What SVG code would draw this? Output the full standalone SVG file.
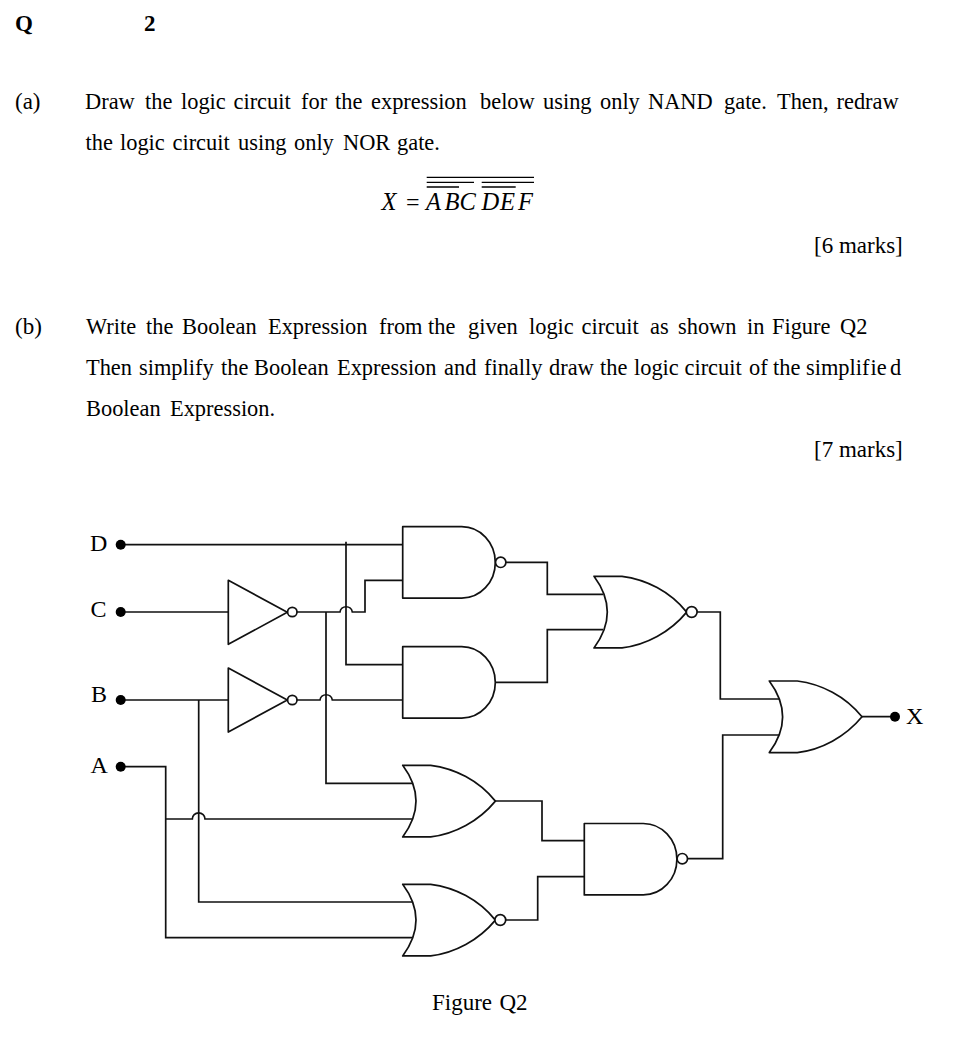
<svg xmlns="http://www.w3.org/2000/svg" width="969" height="1052" viewBox="0 0 969 1052">
<style>
text{font-family:"Liberation Serif","Times New Roman",serif;font-size:23px;fill:#000}
.t{font-size:22.4px}
.b{font-weight:bold}
.i{font-style:italic;font-size:24.5px}
.l{font-size:24px}
.w{fill:none;stroke:#111;stroke-width:1.7}
.g{fill:#fff;stroke:#111;stroke-width:1.7;stroke-linejoin:round}
.o{fill:none;stroke:#000;stroke-width:1.3}
.d{fill:#000}
</style>
<defs>
<path id="and" d="M0,0H59A33.6,35.7 0 0 1 59,71.4H0Z"/>
<path id="or" d="M0,0H28C52,3 76,15 92.7,35.8C76,56 52,68.7 28,71.6H0Q26.6,35.8 0,0Z"/>
<path id="inv" d="M0,0L59,32L0,64Z"/>
</defs>
<rect width="969" height="1052" fill="#fff"/>
<g id="text-question">
<text class="b" x="15" y="31">Q</text><text class="b" x="144" y="31">2</text>
<text x="15" y="108.5">(a)</text>
<text class="t" y="108.5"><tspan x="85">Draw </tspan><tspan x="145">the </tspan><tspan x="181">logic </tspan><tspan x="233.5">circuit </tspan><tspan x="301">for </tspan><tspan x="335">the </tspan><tspan x="371">expression </tspan><tspan x="480">below </tspan><tspan x="543">using </tspan><tspan x="600">only </tspan><tspan x="648">NAND </tspan><tspan x="724">gate. </tspan><tspan x="777">Then, </tspan><tspan x="836.5">redraw</tspan></text>
<text class="t" y="150"><tspan x="85.5">the </tspan><tspan x="120">logic </tspan><tspan x="172.5">circuit </tspan><tspan x="238">using </tspan><tspan x="294">only </tspan><tspan x="343">NOR </tspan><tspan x="397">gate.</tspan></text>
<text x="814" y="253">[6 marks]</text>
<text x="15" y="334">(b)</text>
<text class="t" y="334"><tspan x="86">Write </tspan><tspan x="146">the </tspan><tspan x="182">Boolean </tspan><tspan x="268">Expression </tspan><tspan x="379">from </tspan><tspan x="428">the </tspan><tspan x="468">given </tspan><tspan x="529">logic </tspan><tspan x="581.5">circuit </tspan><tspan x="650">as </tspan><tspan x="678">shown </tspan><tspan x="747">in </tspan><tspan x="772">Figure </tspan><tspan x="840">Q2</tspan></text>
<text class="t" y="375"><tspan x="86">Then </tspan><tspan x="139">simplify </tspan><tspan x="221">the </tspan><tspan x="254">Boolean </tspan><tspan x="337">Expression </tspan><tspan x="444">and </tspan><tspan x="484">finally </tspan><tspan x="549">draw </tspan><tspan x="600">the </tspan><tspan x="634">logic </tspan><tspan x="684.5">circuit </tspan><tspan x="749">of </tspan><tspan x="773">the </tspan><tspan x="806">simplif</tspan><tspan x="870.5">ie</tspan><tspan x="890">d</tspan></text>
<text class="t" y="415.7"><tspan x="86">Boolean </tspan><tspan x="170">Expression.</tspan></text>
<text x="814" y="456.7">[7 marks]</text>
<text x="432" y="1010">Figure</text><text x="499.5" y="1010">Q2</text>
</g>
<g id="equation">
<text class="i" x="381.5" y="209.5">X</text>
<text x="406" y="209.5" class="l">=</text>
<text class="i" y="209.5"><tspan x="426">A</tspan><tspan x="444.5">B</tspan><tspan x="459.5">C</tspan><tspan x="481.5">D</tspan><tspan x="500">E</tspan><tspan x="518">F</tspan></text>
<path class="o" d="M426.7,177.3H534M426.7,182.3H474M481.7,182.3H534M426.7,187H459M481.7,187H515.7"/>
</g>
<g id="connectors">
<path class="w" d="M120.7,544.7H403M346,541.7V664.7H403"/>
<path class="w" d="M120.7,612H228.3M297,612H340A6.2,6 0 0 1 352.3,612H365V580.3H403"/>
<path class="w" d="M326,612V783.3H413"/>
<path class="w" d="M120.7,700H228.3M297,700H320A6.2,6 0 0 1 332.3,700H403"/>
<path class="w" d="M198.7,700V902H413"/>
<path class="w" d="M120.7,766.7H165.7V937.7H413"/>
<path class="w" d="M165.7,819H192.3A6.3,6 0 0 1 205,819H413"/>
<path class="w" d="M506,562.3H547.3V594.3H603"/>
<path class="w" d="M495,682.3H547.3V629.7H603"/>
<path class="w" d="M697,612H720.3V699H779"/>
<path class="w" d="M495,801H542V840.7H584"/>
<path class="w" d="M505.5,920H537.7V876.7H584"/>
<path class="w" d="M687.5,858.7H722.7V735H779"/>
<path class="w" d="M862,716.7H895"/>
</g>
<g id="input-D"><circle class="d" cx="120.7" cy="544.7" r="5"/><text class="l" x="90" y="550.7">D</text></g>
<g id="input-C"><circle class="d" cx="120.7" cy="612" r="5"/><text class="l" x="90.5" y="616.7">C</text></g>
<g id="input-B"><circle class="d" cx="120.7" cy="700" r="5"/><text class="l" x="91" y="701.7">B</text></g>
<g id="input-A"><circle class="d" cx="120.7" cy="766.7" r="5"/><text class="l" x="90.5" y="773.3">A</text></g>
<g id="output-X"><circle class="d" cx="895" cy="716.7" r="5"/><text class="l" x="906" y="723.5">X</text></g>
<g id="not-1"><use href="#inv" class="g" x="228.3" y="580.3"/><circle class="g" cx="292.3" cy="612" r="4.7"/></g>
<g id="not-2"><use href="#inv" class="g" x="228.3" y="668"/><circle class="g" cx="292.3" cy="700" r="4.7"/></g>
<g id="nand-1"><use href="#and" class="g" x="402.7" y="526.7"/><circle class="g" cx="500.7" cy="562.3" r="5.2"/></g>
<g id="and-1"><use href="#and" class="g" x="402.7" y="646.7"/></g>
<g id="nor-1"><use href="#or" class="g" x="594" y="576.3"/><circle class="g" cx="691.7" cy="612" r="5.4"/></g>
<g id="or-1"><use href="#or" class="g" x="402.7" y="765.3"/></g>
<g id="nor-2"><use href="#or" class="g" x="402.7" y="884.3"/><circle class="g" cx="500.3" cy="920" r="5.4"/></g>
<g id="nand-2"><use href="#and" class="g" x="584.3" y="823.5"/><circle class="g" cx="682.3" cy="858.7" r="5.2"/></g>
<g id="or-2"><use href="#or" class="g" x="769.3" y="681"/></g>
</svg>
